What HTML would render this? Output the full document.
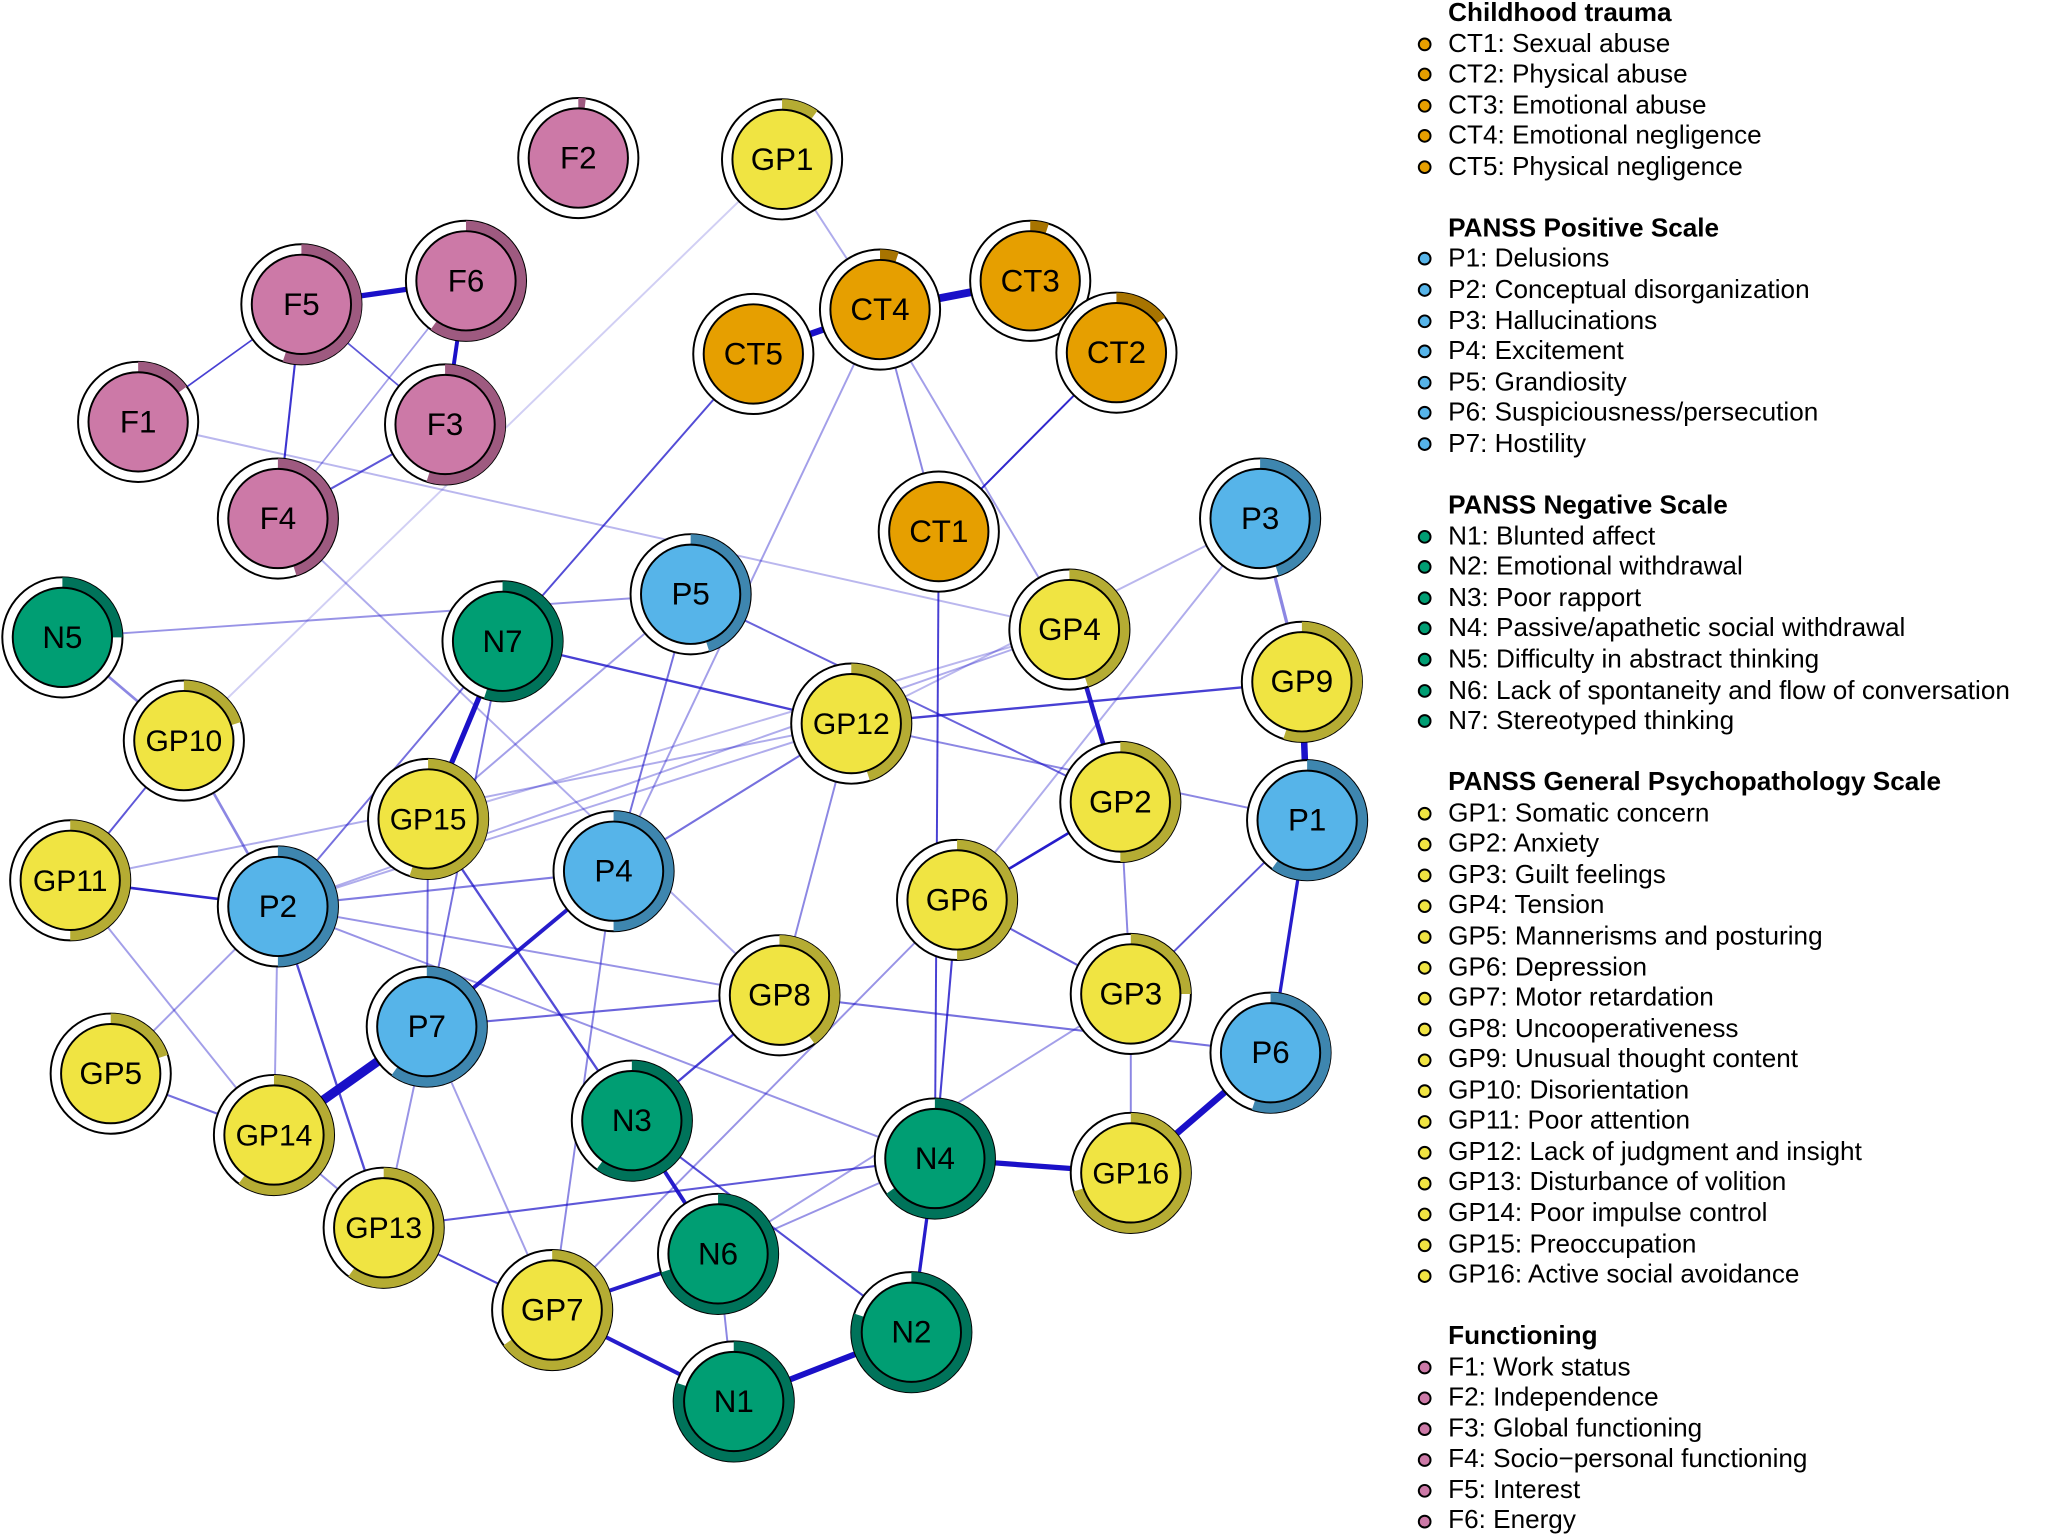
<!DOCTYPE html>
<html><head><meta charset="utf-8">
<style>
html,body{margin:0;padding:0;background:#fff;}
svg{display:block;font-family:"Liberation Sans",Arial,sans-serif;}
</style></head>
<body>
<svg id="s" width="2050" height="1536" viewBox="0 0 1568 1176" xmlns="http://www.w3.org/2000/svg">
<g id="edges"></g>
<g id="nodes"></g>
<g id="legend" font-size="20" fill="#000">
<text x="1108" y="16" font-weight="bold">Childhood trauma</text>
<text x="1108" y="40">CT1: Sexual abuse</text>
<text x="1108" y="63">CT2: Physical abuse</text>
<text x="1108" y="87">CT3: Emotional abuse</text>
<text x="1108" y="110">CT4: Emotional negligence</text>
<text x="1108" y="134">CT5: Physical negligence</text>
<text x="1108" y="181" font-weight="bold">PANSS Positive Scale</text>
<text x="1108" y="204">P1: Delusions</text>
<text x="1108" y="228">P2: Conceptual disorganization</text>
<text x="1108" y="252">P3: Hallucinations</text>
<text x="1108" y="275">P4: Excitement</text>
<text x="1108" y="299">P5: Grandiosity</text>
<text x="1108" y="322">P6: Suspiciousness/persecution</text>
<text x="1108" y="346">P7: Hostility</text>
<text x="1108" y="393" font-weight="bold">PANSS Negative Scale</text>
<text x="1108" y="417">N1: Blunted affect</text>
<text x="1108" y="440">N2: Emotional withdrawal</text>
<text x="1108" y="464">N3: Poor rapport</text>
<text x="1108" y="487">N4: Passive/apathetic social withdrawal</text>
<text x="1108" y="511">N5: Difficulty in abstract thinking</text>
<text x="1108" y="535">N6: Lack of spontaneity and flow of conversation</text>
<text x="1108" y="558">N7: Stereotyped thinking</text>
<text x="1108" y="605" font-weight="bold">PANSS General Psychopathology Scale</text>
<text x="1108" y="629">GP1: Somatic concern</text>
<text x="1108" y="652">GP2: Anxiety</text>
<text x="1108" y="676">GP3: Guilt feelings</text>
<text x="1108" y="699">GP4: Tension</text>
<text x="1108" y="723">GP5: Mannerisms and posturing</text>
<text x="1108" y="747">GP6: Depression</text>
<text x="1108" y="770">GP7: Motor retardation</text>
<text x="1108" y="794">GP8: Uncooperativeness</text>
<text x="1108" y="817">GP9: Unusual thought content</text>
<text x="1108" y="841">GP10: Disorientation</text>
<text x="1108" y="864">GP11: Poor attention</text>
<text x="1108" y="888">GP12: Lack of judgment and insight</text>
<text x="1108" y="911">GP13: Disturbance of volition</text>
<text x="1108" y="935">GP14: Poor impulse control</text>
<text x="1108" y="959">GP15: Preoccupation</text>
<text x="1108" y="982">GP16: Active social avoidance</text>
<text x="1108" y="1029" font-weight="bold">Functioning</text>
<text x="1108" y="1053">F1: Work status</text>
<text x="1108" y="1076">F2: Independence</text>
<text x="1108" y="1100">F3: Global functioning</text>
<text x="1108" y="1123">F4: Socio−personal functioning</text>
<text x="1108" y="1147">F5: Interest</text>
<text x="1108" y="1170">F6: Energy</text>
</g>
<g id="dots"></g>
</svg>
<script>
var C={F:["#CC79A7","#9E5A80"],GP:["#F0E442","#B5AC33"],CT:["#E69F00","#A87400"],P:["#56B4E9","#3E86AF"],N:["#009E73","#00735A"]};
var N={F2:[442,121,.02],GP1:[598,122,.1],F5:[230,233,.55],F6:[356,215,.6],F1:[105,323,.15],F3:[340,325,.55],F4:[212,397,.45],
CT4:[673,237,.05],CT3:[788,215,.05],CT5:[576,271,0],CT2:[854,270,.15],CT1:[718,407,0],P3:[964,397,.45],P5:[528,455,.45],
N5:[47,488,.25],N7:[384,491,.55],GP4:[818,482,.45],GP9:[996,522,.55],GP10:[140,567,.2],GP12:[651,554,.45],GP2:[857,614,.5],
P1:[1000,628,.6],GP15:[327,627,.55],P4:[469,667,.5],GP11:[53,674,.5],P2:[212,694,.5],GP6:[732,689,.5],GP8:[596,762,.4],
GP3:[865,761,.25],P7:[326,786,.6],P6:[972,806,.55],GP5:[84,822,.2],N3:[483,858,.6],GP14:[209,869,.6],N4:[715,887,.65],
GP16:[865,898,.7],GP13:[293,940,.6],N6:[549,960,.7],GP7:[422,1003,.65],N2:[697,1020,.8],N1:[561,1073,.8]};
// [a,b,width,opacity]
var E=[["F5","F6",4,1],["F6","F3",3,1],["F5","F1",1.3,.8],["F5","F4",1.6,.85],["F5","F3",1.3,.7],["F6","F4",1.3,.4],["F3","F4",1.6,.7],
["F1","GP4",1.5,.3],["GP1","GP10",1.5,.2],["GP1","CT4",1.5,.35],["CT4","CT3",6,1],["CT4","CT5",5,1],["CT4","CT1",1.5,.5],["CT4","GP4",1.5,.4],
["CT2","CT1",1.5,.9],["CT5","N7",1.5,.75],["CT1","N4",1.5,.8],["F4","GP8",1.5,.35],["P3","GP9",2.5,.5],["P3","GP12",1.5,.3],["P3","GP6",1.5,.35],
["GP4","GP2",3.5,.95],["GP9","P1",5,1],["P1","P6",2.5,.95],["P1","GP3",1.5,.7],["GP12","GP9",1.8,.8],["P5","GP2",1.5,.65],["P5","N5",1.5,.45],
["P5","P4",1.5,.6],["N7","GP12",1.8,.8],["N7","P2",1.5,.6],["N7","GP15",4,1],["N7","P7",1.5,.6],["N5","GP10",2,.5],["GP10","GP11",1.5,.7],
["GP10","P2",2,.5],["GP11","P2",2,.9],["GP11","GP12",1.5,.35],["GP11","GP14",1.5,.4],["P2","P4",1.6,.55],["P2","GP8",1.5,.45],["P2","GP13",1.8,.75],
["P2","GP5",1.5,.4],["P2","N4",1.5,.45],["P2","GP4",1.5,.35],["P2","GP12",1.5,.35],["P4","GP12",1.6,.6],["P4","P7",3,.95],["P4","GP7",1.5,.5],
["P4","CT4",1.5,.4],["P7","GP14",7,1],["P7","GP8",1.6,.65],["P7","GP13",1.5,.45],["P7","GP7",1.5,.4],["P7","GP15",1.5,.6],["GP15","N3",1.8,.75],
["GP15","GP4",1.5,.3],["GP15","P5",1.5,.4],["GP12","GP8",1.5,.5],["GP12","P1",1.5,.5],["GP6","GP2",2,.95],["GP6","GP3",1.6,.65],["GP6","N4",1.6,.8],
["GP6","GP7",1.5,.45],["GP8","P6",1.6,.6],["GP8","N3",1.8,.8],["GP3","GP2",1.5,.5],["GP3","GP16",1.5,.5],["GP3","N6",1.5,.4],["N4","GP16",4,1],
["GP16","P6",5,1],["N4","N2",2.5,.95],["N4","GP13",1.6,.7],["N4","N6",1.5,.45],["N3","N6",3,.95],["N3","N2",1.6,.75],["N6","GP7",3,.95],
["N6","N1",1.5,.5],["GP7","N1",3,.95],["N1","N2",4.5,1],["GP13","GP7",1.6,.75],["GP13","GP14",1.5,.45],["GP5","GP14",1.6,.6],["GP14","P2",1.5,.4]];
var ns="http://www.w3.org/2000/svg";
function el(t,a,p){var e=document.createElementNS(ns,t);for(var k in a)e.setAttribute(k,a[k]);p.appendChild(e);return e;}
var ge=document.getElementById("edges"),gn=document.getElementById("nodes"),gd=document.getElementById("dots");
E.forEach(function(e){var a=N[e[0]],b=N[e[1]];el("line",{x1:a[0],y1:a[1],x2:b[0],y2:b[1],stroke:"#1a10c8","stroke-width":e[2],"stroke-opacity":e[3]},ge);});
for(var k in N){var n=N[k],x=n[0],y=n[1],g=k.replace(/[0-9]/g,""),c=C[g],R=46,r=38,f=n[2];
 el("circle",{cx:x,cy:y,r:R,fill:"#fff",stroke:"#000","stroke-width":1.5},gn);
 if(f>0){var rm=42,ang=f*2*Math.PI,ex=x+rm*Math.sin(ang),ey=y-rm*Math.cos(ang);
  el("path",{d:"M"+x+","+(y-rm)+" A"+rm+","+rm+" 0 "+(f>.5?1:0)+" 1 "+ex.toFixed(1)+","+ey.toFixed(1),fill:"none",stroke:c[1],"stroke-width":8},gn);}
 el("circle",{cx:x,cy:y,r:r,fill:c[0],stroke:"#000","stroke-width":1.5},gn);
 var t=el("text",{x:x,y:y+8,"text-anchor":"middle","font-size":k.length>3?23:24,fill:"#000"},gn);t.textContent=k;}
var dy=[[34,"CT"],[57,"CT"],[81,"CT"],[104,"CT"],[128,"CT"],[198,"P"],[222,"P"],[246,"P"],[269,"P"],[293,"P"],[316,"P"],[340,"P"],
[411,"N"],[434,"N"],[458,"N"],[481,"N"],[505,"N"],[529,"N"],[552,"N"]];
for(var i=0;i<16;i++)dy.push([623+i*23.6,"GP"]);
for(var i=0;i<6;i++)dy.push([1047+i*23.6,"F"]);
dy.forEach(function(d){el("circle",{cx:1090,cy:d[0],r:4.5,fill:C[d[1]][0],stroke:"#000","stroke-width":1.5},gd);});
</script>
</body></html>
